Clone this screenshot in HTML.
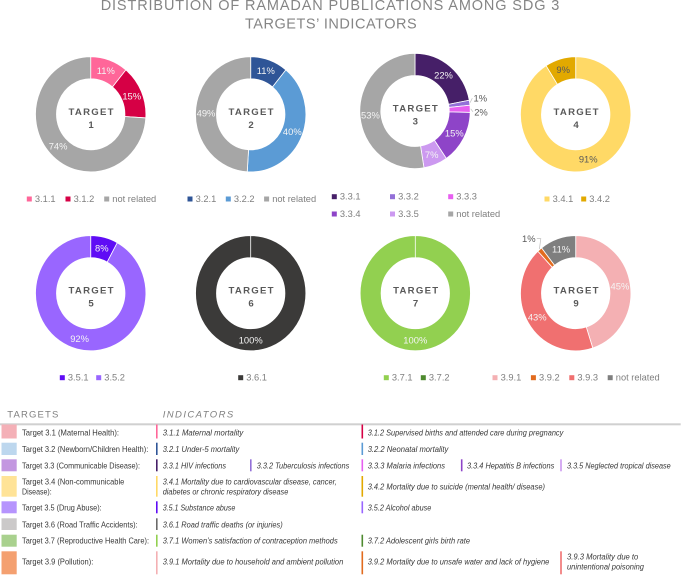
<!DOCTYPE html>
<html lang="en">
<head>
<meta charset="utf-8">
<title>Distribution of Ramadan publications among SDG 3 targets' indicators</title>
<style>
html,body{margin:0;padding:0;background:#fff;width:685px;height:575px;overflow:hidden}
svg{display:block}
text{font-family:"Liberation Sans",sans-serif}
.t{font-size:8.3px;fill:#383838;dominant-baseline:central}
.i{font-size:8.3px;fill:#383838;font-style:italic;dominant-baseline:central}
</style>
</head>
<body>
<svg id="figure" xmlns="http://www.w3.org/2000/svg" width="685" height="575" viewBox="0 0 685 575">
  <rect width="685" height="575" fill="#fff"/>
  <text x="100.7" y="10" font-size="14.5" fill="#858585" textLength="458.6" lengthAdjust="spacing">DISTRIBUTION OF RAMADAN PUBLICATIONS AMONG SDG 3</text>
  <text x="245" y="28.3" font-size="14.5" fill="#858585" textLength="171.7" lengthAdjust="spacing">TARGETS’ INDICATORS</text>
  <g id="charts"></g>

  <g>
    <text x="7.3" y="415" font-size="9.5" fill="#7f7f7f" dominant-baseline="central" textLength="51" lengthAdjust="spacing">TARGETS</text>
    <text x="162.7" y="415" font-size="9.5" font-style="italic" fill="#7f7f7f" dominant-baseline="central" textLength="70.5" lengthAdjust="spacing">INDICATORS</text>
    <rect x="0" y="423.3" width="680.7" height="2" fill="#d0d0d0"/>

    <g>
      <rect x="1.5" y="424.5" width="15.2" height="14" fill="#f4b0b7"/>
      <text class="t" x="22" y="432.3" textLength="97" lengthAdjust="spacingAndGlyphs">Target 3.1 (Maternal Health):</text>
      <rect x="156" y="424.5" width="1.6" height="14" fill="#ff6699"/>
      <text class="i" x="162.7" y="432.3" textLength="80.6" lengthAdjust="spacingAndGlyphs">3.1.1 Maternal mortality</text>
      <rect x="361.5" y="424.5" width="1.6" height="14" fill="#d60045"/>
      <text class="i" x="367.7" y="432.3" textLength="195.6" lengthAdjust="spacingAndGlyphs">3.1.2 Supervised births and attended care during pregnancy</text>
    </g>
    <g>
      <rect x="1.5" y="442.7" width="15.2" height="12.3" fill="#bdd7ee"/>
      <text class="t" x="22" y="449" textLength="126.3" lengthAdjust="spacingAndGlyphs">Target 3.2 (Newborn/Children Health):</text>
      <rect x="156" y="442.7" width="1.6" height="12.3" fill="#2f5597"/>
      <text class="i" x="162.7" y="449" textLength="76.6" lengthAdjust="spacingAndGlyphs">3.2.1 Under-5 mortality</text>
      <rect x="361.5" y="442.7" width="1.6" height="12.3" fill="#5b9bd5"/>
      <text class="i" x="367.7" y="449" textLength="80.6" lengthAdjust="spacingAndGlyphs">3.2.2 Neonatal mortality</text>
    </g>
    <g>
      <rect x="1.5" y="459.3" width="15.2" height="12" fill="#c397e0"/>
      <text class="t" x="22" y="465.7" textLength="118" lengthAdjust="spacingAndGlyphs">Target 3.3 (Communicable Disease):</text>
      <rect x="156" y="459.3" width="1.6" height="12" fill="#461f68"/>
      <text class="i" x="162.7" y="465.7" textLength="63.3" lengthAdjust="spacingAndGlyphs">3.3.1 HIV infections</text>
      <rect x="250" y="459.3" width="1.6" height="12" fill="#9370d8"/>
      <text class="i" x="256.7" y="465.7" textLength="92.6" lengthAdjust="spacingAndGlyphs">3.3.2 Tuberculosis infections</text>
      <rect x="361.5" y="459.3" width="1.6" height="12" fill="#e75ff0"/>
      <text class="i" x="367.7" y="465.7" textLength="77.3" lengthAdjust="spacingAndGlyphs">3.3.3 Malaria infections</text>
      <rect x="460.9" y="459.3" width="1.6" height="12" fill="#8e44c8"/>
      <text class="i" x="467" y="465.7" textLength="87.3" lengthAdjust="spacingAndGlyphs">3.3.4 Hepatitis B infections</text>
      <rect x="560.2" y="459.3" width="1.6" height="12" fill="#cc99f0"/>
      <text class="i" x="567" y="465.7" textLength="103.7" lengthAdjust="spacingAndGlyphs">3.3.5 Neglected tropical disease</text>
    </g>
    <g>
      <rect x="1.5" y="476" width="15.2" height="20.7" fill="#ffe397"/>
      <text class="t" x="22" y="481.7" textLength="102.3" lengthAdjust="spacingAndGlyphs">Target 3.4 (Non-communicable</text>
      <text class="t" x="22" y="491.7" textLength="29.7" lengthAdjust="spacingAndGlyphs">Disease):</text>
      <rect x="156" y="476" width="1.6" height="20.7" fill="#ffd966"/>
      <text class="i" x="162.7" y="481.7" textLength="174" lengthAdjust="spacingAndGlyphs">3.4.1 Mortality due to cardiovascular disease, cancer,</text>
      <text class="i" x="162.7" y="491.7" textLength="125.6" lengthAdjust="spacingAndGlyphs">diabetes or chronic respiratory disease</text>
      <rect x="361.5" y="476" width="1.6" height="20.7" fill="#e2a900"/>
      <text class="i" x="367.7" y="486.7" textLength="177.3" lengthAdjust="spacingAndGlyphs">3.4.2 Mortality due to suicide (mental health/ disease)</text>
    </g>
    <g>
      <rect x="1.5" y="501.3" width="15.2" height="12" fill="#b694fd"/>
      <text class="t" x="22" y="507.7" textLength="79.7" lengthAdjust="spacingAndGlyphs">Target 3.5 (Drug Abuse):</text>
      <rect x="156" y="501.3" width="1.6" height="12" fill="#5f0cf5"/>
      <text class="i" x="162.7" y="507.7" textLength="72.6" lengthAdjust="spacingAndGlyphs">3.5.1 Substance abuse</text>
      <rect x="361.5" y="501.3" width="1.6" height="12" fill="#9966ff"/>
      <text class="i" x="367.7" y="507.7" textLength="63.6" lengthAdjust="spacingAndGlyphs">3.5.2 Alcohol abuse</text>
    </g>
    <g>
      <rect x="1.5" y="518.3" width="15.2" height="11.7" fill="#cbc9c9"/>
      <text class="t" x="22" y="524.3" textLength="115.7" lengthAdjust="spacingAndGlyphs">Target 3.6 (Road Traffic Accidents):</text>
      <rect x="156" y="518.3" width="1.6" height="11.7" fill="#6b6a69"/>
      <text class="i" x="162.7" y="524.3" textLength="120" lengthAdjust="spacingAndGlyphs">3.6.1 Road traffic deaths (or injuries)</text>
    </g>
    <g>
      <rect x="1.5" y="534.7" width="15.2" height="12" fill="#a9d18e"/>
      <text class="t" x="22" y="540.7" textLength="127" lengthAdjust="spacingAndGlyphs">Target 3.7 (Reproductive Health Care):</text>
      <rect x="156" y="534.7" width="1.6" height="12" fill="#92d050"/>
      <text class="i" x="162.7" y="540.7" textLength="175" lengthAdjust="spacingAndGlyphs">3.7.1 Women’s satisfaction of contraception methods</text>
      <rect x="361.5" y="534.7" width="1.6" height="12" fill="#4e8a2f"/>
      <text class="i" x="367.7" y="540.7" textLength="102.3" lengthAdjust="spacingAndGlyphs">3.7.2 Adolescent girls birth rate</text>
    </g>
    <g>
      <rect x="1.5" y="551.3" width="15.2" height="23" fill="#f4a070"/>
      <text class="t" x="22" y="561.7" textLength="71.3" lengthAdjust="spacingAndGlyphs">Target 3.9 (Pollution):</text>
      <rect x="156" y="551.3" width="1.6" height="23" fill="#f4b0b3"/>
      <text class="i" x="162.7" y="561.7" textLength="180.6" lengthAdjust="spacingAndGlyphs">3.9.1 Mortality due to household and ambient pollution</text>
      <rect x="361.5" y="551.3" width="1.6" height="23" fill="#e26b1e"/>
      <text class="i" x="367.7" y="561.7" textLength="181.6" lengthAdjust="spacingAndGlyphs">3.9.2 Mortality due to unsafe water and lack of hygiene</text>
      <rect x="560.2" y="551.3" width="1.6" height="23" fill="#f07070"/>
      <text class="i" x="567" y="556.7" textLength="71.3" lengthAdjust="spacingAndGlyphs">3.9.3 Mortality due to</text>
      <text class="i" x="567" y="566.7" textLength="77" lengthAdjust="spacingAndGlyphs">unintentional poisoning</text>
    </g>
  </g>
</svg>
<script>
// ---- data: slices run clockwise from 12 o'clock; printed labels are rounded ----
const t1Categories = ['3.1.1', '3.1.2', 'not related'];
const t1Values = [11, 15, 74];
const t1Legend = ['3.1.1', '3.1.2', 'not related'];

const t2Categories = ['3.2.1', '3.2.2', 'not related'];
const t2Values = [11, 40, 49];
const t2Legend = ['3.2.1', '3.2.2', 'not related'];

const t3Categories = ['3.3.1', '3.3.2', '3.3.3', '3.3.4', '3.3.5', 'not related'];
const t3Values = [22, 1.4, 2, 15, 7, 52.6];
const t3Legend = ['3.3.1', '3.3.2', '3.3.3', '3.3.4', '3.3.5', 'not related'];

const t4Categories = ['3.4.1', '3.4.2'];
const t4Values = [91, 9];
const t4Legend = ['3.4.1', '3.4.2'];

const t5Categories = ['3.5.1', '3.5.2'];
const t5Values = [8, 92];
const t5Legend = ['3.5.1', '3.5.2'];

const t6Categories = ['3.6.1'];
const t6Values = [100];
const t6Legend = ['3.6.1'];

const t7Categories = ['3.7.1', '3.7.2'];
const t7Values = [100, 0];
const t7Legend = ['3.7.1', '3.7.2'];

const t9Categories = ['3.9.1', '3.9.3', '3.9.2', 'not related'];
const t9Values = [45, 43, 1.4, 10.6];
const t9Legend = ['3.9.1', '3.9.2', '3.9.3', 'not related'];

// ---- styles, keyed by category ----
const sliceColors = {
  '3.1.1': '#ff6699', '3.1.2': '#d60045',
  '3.2.1': '#2f5597', '3.2.2': '#5b9bd5',
  '3.3.1': '#461f68', '3.3.2': '#9370d8', '3.3.3': '#e75ff0', '3.3.4': '#8e44c8', '3.3.5': '#cc99f0',
  '3.4.1': '#ffd966', '3.4.2': '#e2a900',
  '3.5.1': '#5f0cf5', '3.5.2': '#9966ff',
  '3.6.1': '#3b3a39',
  '3.7.1': '#92d050', '3.7.2': '#4e8a2f',
  '3.9.1': '#f4b0b3', '3.9.2': '#e26b1e', '3.9.3': '#f07070',
  'not related': '#a6a6a6'
};

// ---- layout ----
const RX = 55.2, RY = 57.6, IRX = 34.2, IRY = 35.5, LABEL_F = 0.81;
const charts = [
  {name:'1', cats:t1Categories, vals:t1Values, legend:t1Legend, cx:90.7,  cy:114.3, lx:29.3,  ly:199,   pitch:38.7},
  {name:'2', cats:t2Categories, vals:t2Values, legend:t2Legend, cx:250.7, cy:114.3, lx:190,   ly:199,   pitch:38.3},
  {name:'3', cats:t3Categories, vals:t3Values, legend:t3Legend, cx:415,   cy:111,   lx:334.3, ly:196.7, pitch:58.2, cols:3, rowGap:17.3, outR:66, fan:6.6, elbow:0},
  {name:'4', cats:t4Categories, vals:t4Values, legend:t4Legend, cx:575.7, cy:114.3, lx:547,   ly:199,   pitch:36.7, dark:true},
  {name:'5', cats:t5Categories, vals:t5Values, legend:t5Legend, cx:90.7,  cy:293.2, lx:62.3,  ly:377.7, pitch:36.4},
  {name:'6', cats:t6Categories, vals:t6Values, legend:t6Legend, cx:250.7, cy:293.2, lx:240.7, ly:377.7, pitch:37},
  {name:'7', cats:t7Categories, vals:t7Values, legend:t7Legend, cx:415.3, cy:293.2, lx:386.3, ly:377.7, pitch:37},
  {name:'9', cats:t9Categories, vals:t9Values, legend:t9Legend, cx:575.7, cy:293.2, lx:495,   ly:377.7, pitch:38.4, outR:72, fan:0, elbow:4, lastColor:'#7f7f7f'}
];

const NS = 'http://www.w3.org/2000/svg';
const root = document.getElementById('charts');

function make(tag, parent) {
  const el = document.createElementNS(NS, tag);
  parent.appendChild(el);
  return el;
}
function slug(s) { return s.replace(/[. ]/g, '-'); }
function angleOf(fraction) { return fraction * 2 * Math.PI; }
function px(c, rx, a) { return c.cx + rx * Math.sin(a); }
function py(c, ry, a) { return c.cy - ry * Math.cos(a); }

function ringPath(c, a0, a1) {
  const am = (a0 + a1) / 2;
  const f = n => n.toFixed(2);
  // two half sweeps per slice, so a full 100% ring still renders with its seam
  return 'M' + f(px(c, RX, a0)) + ' ' + f(py(c, RY, a0)) +
    'A' + RX + ' ' + RY + ' 0 0 1 ' + f(px(c, RX, am)) + ' ' + f(py(c, RY, am)) +
    'A' + RX + ' ' + RY + ' 0 0 1 ' + f(px(c, RX, a1)) + ' ' + f(py(c, RY, a1)) +
    'L' + f(px(c, IRX, a1)) + ' ' + f(py(c, IRY, a1)) +
    'A' + IRX + ' ' + IRY + ' 0 0 0 ' + f(px(c, IRX, am)) + ' ' + f(py(c, IRY, am)) +
    'A' + IRX + ' ' + IRY + ' 0 0 0 ' + f(px(c, IRX, a0)) + ' ' + f(py(c, IRY, a0)) + 'Z';
}

function colorOf(c, cat) {
  if (cat === 'not related' && c.lastColor) return c.lastColor;
  return sliceColors[cat];
}

charts.forEach(function (c) {
  const g = make('g', root);
  
  

  const total = c.vals.reduce((s, v) => s + v, 0);
  let run = 0, smallIndex = 0;
  const smallCount = c.vals.filter(v => v > 0 && v <= 2).length;
  const labels = [];

  c.vals.forEach(function (v, i) {
    if (v <= 0) return;
    const a0 = angleOf(run / total);
    const a1 = angleOf((run + v) / total);
    run += v;
    const cat = c.cats[i];
    const p = make('path', g);
    p.setAttribute('d', ringPath(c, a0, a1));
    p.setAttribute('fill', colorOf(c, cat));
    p.setAttribute('stroke', '#fff');
    p.setAttribute('stroke-width', '0.8');
    
    
    labels.push({ v: v, cat: cat, mid: (a0 + a1) / 2 });
  });

  labels.forEach(function (l) {
    const outside = l.v <= 2 && c.outR;
    let x, y;
    if (outside) {
      const shift = smallCount > 1 ? c.fan * (smallIndex - (smallCount - 1) / 2) : 0;
      smallIndex++;
      x = px(c, c.outR, l.mid);
      y = py(c, c.outR, l.mid) + shift;
      const side = x > c.cx ? -1 : 1;
      const ex = px(c, RX + 0.5, l.mid), ey = py(c, RY + 0.5, l.mid);
      const pts = [[ex, ey]];
      if (c.elbow) pts.push([x + side * (8 + c.elbow), y]);
      pts.push([x + side * 8, y]);
      const leader = make('polyline', g);
      leader.setAttribute('points', pts.map(q => q[0].toFixed(1) + ',' + q[1].toFixed(1)).join(' '));
      leader.setAttribute('fill', 'none');
      leader.setAttribute('stroke', '#bfbfbf');
      leader.setAttribute('stroke-width', '0.7');
      
      
    } else {
      x = px(c, RX * LABEL_F, l.mid);
      y = py(c, RY * LABEL_F, l.mid);
    }
    const t = make('text', g);
    t.setAttribute('x', x.toFixed(1));
    t.setAttribute('y', y.toFixed(1));
    t.setAttribute('text-anchor', 'middle');
    t.setAttribute('dominant-baseline', 'central');
    t.setAttribute('font-size', '9.4');
    t.setAttribute('fill', outside || c.dark ? '#595959' : '#f4f4f4');
    
    
    t.textContent = Math.round(l.v) + '%';
  });

  const head = make('text', g);
  head.setAttribute('x', c.cx + 0.3);
  head.setAttribute('y', c.cy - 2);
  head.setAttribute('text-anchor', 'middle');
  head.setAttribute('dominant-baseline', 'central');
  head.setAttribute('font-size', '9.6');
  head.setAttribute('font-weight', 'bold');
  head.setAttribute('fill', '#595959');
  head.setAttribute('textLength', '45');
  head.setAttribute('lengthAdjust', 'spacing');
  
  
  head.textContent = 'TARGET';

  const num = make('text', g);
  num.setAttribute('x', c.cx + 0.3);
  num.setAttribute('y', c.cy + 11);
  num.setAttribute('text-anchor', 'middle');
  num.setAttribute('dominant-baseline', 'central');
  num.setAttribute('font-size', '9.6');
  num.setAttribute('font-weight', 'bold');
  num.setAttribute('fill', '#595959');
  
  
  num.textContent = c.name;

  const cols = c.cols || c.legend.length;
  c.legend.forEach(function (cat, i) {
    const col = i % cols, row = Math.floor(i / cols);
    const x = c.lx + col * c.pitch;
    const y = c.ly + row * (c.rowGap || 0);
    const entry = make('g', g);
    
    
    const m = make('rect', entry);
    m.setAttribute('x', x - 2.5);
    m.setAttribute('y', y - 2.5);
    m.setAttribute('width', 5);
    m.setAttribute('height', 5);
    m.setAttribute('fill', colorOf(c, cat));
    
    
    const t = make('text', entry);
    t.setAttribute('x', x + 5.6);
    t.setAttribute('y', y);
    t.setAttribute('dominant-baseline', 'central');
    t.setAttribute('font-size', '9.3');
    t.setAttribute('fill', '#7f7f7f');
    
    
    t.textContent = cat;
  });
});
</script>
</body>
</html>
